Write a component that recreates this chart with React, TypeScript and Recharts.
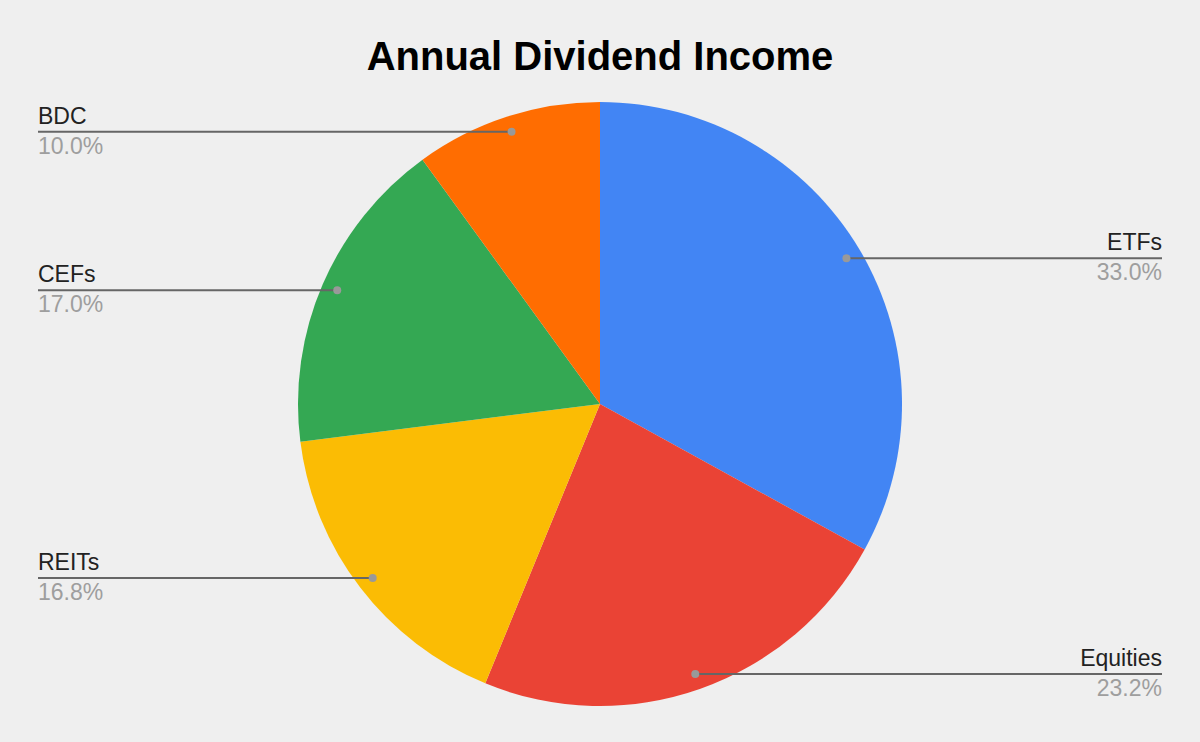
import React from 'react';
import { PieChart, Pie, Cell } from 'recharts';

const categories = ['ETFs', 'Equities', 'REITs', 'CEFs', 'BDC'];
const shares = [33.0, 23.2, 16.8, 17.0, 10.0];
const COLORS = ['#4285F4', '#EA4335', '#FBBC04', '#34A853', '#FF6D01'];

const data = categories.map((name, i) => ({ name, value: shares[i] }));

const FONT = '"Liberation Sans", Arial, sans-serif';
const RADIAN = Math.PI / 180;

function renderLabel(props: any) {
  const { cx, cy, midAngle, outerRadius, percent, name } = props;
  const r = outerRadius * 0.948;
  const x = cx + r * Math.cos(-midAngle * RADIAN);
  const y = cy + r * Math.sin(-midAngle * RADIAN);
  const left = Math.cos(-midAngle * RADIAN) < 0;
  const edge = left ? 38 : 1162;
  const anchor = left ? 'start' : 'end';
  return (
    <g>
      <line x1={edge} y1={y} x2={x} y2={y} stroke="#666666" strokeWidth={2} />
      <circle cx={x} cy={y} r={4} fill="#999999" />
      <text x={edge} y={y - 8} textAnchor={anchor} fontFamily={FONT} fontSize={23} fill="#222222">
        {name}
      </text>
      <text x={edge} y={y + 22} textAnchor={anchor} fontFamily={FONT} fontSize={23} fill="#9e9e9e">
        {(percent * 100).toFixed(1)}%
      </text>
    </g>
  );
}

export default function App() {
  return (
    <div style={{ position: 'absolute', left: 0, top: 0, width: 1200, height: 742, background: '#efefef' }}>
      <svg width={1200} height={90} style={{ position: 'absolute', left: 0, top: 0 }}>
        <text x={600} y={70} textAnchor="middle" fontFamily={FONT} fontWeight="bold" fontSize={40} fill="#000000">
          Annual Dividend Income
        </text>
      </svg>
      <div style={{ position: 'absolute', left: 0, top: 0 }}>
        <PieChart width={1200} height={742} margin={{ top: 0, right: 0, bottom: 0, left: 0 }}>
          <Pie
            data={data}
            dataKey="value"
            nameKey="name"
            cx={600}
            cy={404}
            outerRadius={302}
            startAngle={90}
            endAngle={-270}
            stroke="none"
            labelLine={false}
            label={renderLabel}
            isAnimationActive={false}
          >
            {data.map((entry, index) => (
              <Cell key={`cell-${index}`} fill={COLORS[index % COLORS.length]} />
            ))}
          </Pie>
        </PieChart>
      </div>
    </div>
  );
}
